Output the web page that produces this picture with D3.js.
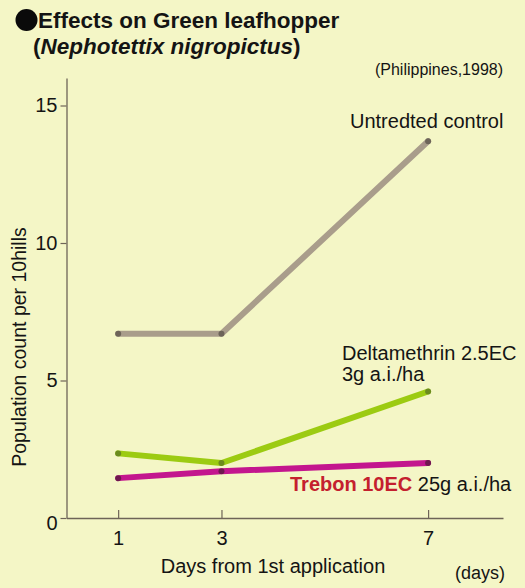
<!DOCTYPE html>
<html>
<head>
<meta charset="utf-8">
<script src="https://cdn.jsdelivr.net/npm/d3@7"></script>
<style>
  html, body { margin: 0; padding: 0; background: #f4f6c6; }
  svg text { font-family: "Liberation Sans", Arial, Helvetica, sans-serif; fill: #141414; }
</style>
</head>
<body>
<script>
'use strict';

const WIDTH  = 525;
const HEIGHT = 588;

// データ
const days        = [1, 3, 7];
const untreated   = [6.7, 6.7, 13.7];
const deltamethrin = [2.35, 2.0, 4.6];
const trebon      = [1.45, 1.7, 2.0];
const yTicks      = [0, 5, 10, 15];

const series = [
  {name: 'untreated',    values: untreated,    color: '#a99d8b', dot: '#5e564c'},
  {name: 'deltamethrin', values: deltamethrin, color: '#9ccb12', dot: '#5f7a22'},
  {name: 'trebon',       values: trebon,       color: '#c3168e', dot: '#5a1840'}
];

const svg = d3.select('body')
  .append('svg')
    .attr('width', WIDTH)
    .attr('height', HEIGHT);

svg.append('rect')
  .attr('width', WIDTH)
  .attr('height', HEIGHT)
  .attr('fill', '#f4f6c6');

const x = d3.scaleLinear().domain([0, 8.45]).range([66.5, 503]);
const y = d3.scaleLinear().domain([0, 16]).range([518, 78]);

// 軸
const yAxis = svg.append('g')
  .attr('transform', 'translate(' + x(0) + ',0)')
  .call(d3.axisLeft(y).tickValues(yTicks).tickSizeInner(6).tickSizeOuter(0).tickPadding(3));

const xAxis = svg.append('g')
  .attr('transform', 'translate(0,' + y(0) + ')')
  .call(d3.axisBottom(x).tickValues(days).tickSizeInner(-8).tickSizeOuter(0).tickPadding(13));

[xAxis, yAxis].forEach(g => {
  g.select('.domain').attr('stroke', '#6e6458').attr('stroke-width', 1.3);
  g.selectAll('.tick line').attr('stroke', '#6e6458').attr('stroke-width', 1.2);
  g.selectAll('.tick text')
    .style('font-family', '"Liberation Sans", Arial, sans-serif')
    .style('font-size', '20px')
    .attr('fill', '#141414');
});
// 0 は原点の左下
yAxis.selectAll('.tick text').filter(d => d === 0).attr('dy', '0.55em');

// 折れ線
const line = d3.line()
  .x((d, i) => x(days[i]))
  .y(d => y(d));

series.forEach(s => {
  svg.append('path')
    .datum(s.values)
    .attr('d', line)
    .attr('fill', 'none')
    .attr('stroke', s.color)
    .attr('stroke-width', 6)
    .attr('stroke-linecap', 'round')
    .attr('stroke-linejoin', 'round');
});
series.forEach(s => {
  svg.selectAll(null)
    .data(s.values)
    .enter().append('circle')
      .attr('cx', (d, i) => x(days[i]))
      .attr('cy', d => y(d))
      .attr('r', 3)
      .attr('fill', s.dot)
      .attr('opacity', 0.8);
});

// タイトル
svg.append('circle')
  .attr('cx', 26.5).attr('cy', 20).attr('r', 11)
  .attr('fill', '#0a0a0a');
svg.append('text')
  .attr('x', 38).attr('y', 28)
  .style('font-size', '22.5px').style('font-weight', 'bold')
  .text('Effects on Green leafhopper');
const t2 = svg.append('text')
  .attr('x', 33).attr('y', 54)
  .style('font-size', '22.5px').style('font-weight', 'bold');
t2.append('tspan').text('(');
t2.append('tspan').style('font-style', 'italic').text('Nephotettix nigropictus');
t2.append('tspan').text(')');

svg.append('text')
  .attr('x', 503).attr('y', 75)
  .attr('text-anchor', 'end')
  .style('font-size', '16px')
  .text('(Philippines,1998)');

// 系列ラベル
svg.append('text')
  .attr('x', 350).attr('y', 128)
  .style('font-size', '20px')
  .text('Untredted control');
svg.append('text')
  .attr('x', 342).attr('y', 360)
  .style('font-size', '20px')
  .text('Deltamethrin 2.5EC');
svg.append('text')
  .attr('x', 342).attr('y', 381)
  .style('font-size', '20px')
  .text('3g a.i./ha');
const tr = svg.append('text')
  .attr('x', 290).attr('y', 491)
  .style('font-size', '20px');
tr.append('tspan').style('font-weight', 'bold').attr('fill', '#c4202e').text('Trebon 10EC');
tr.append('tspan').text(' 25g a.i./ha');

// 軸ラベル
svg.append('text')
  .attr('transform', 'translate(26,347)rotate(-90)')
  .attr('text-anchor', 'middle')
  .style('font-size', '19.5px')
  .text('Population count per 10hills');
svg.append('text')
  .attr('x', 273).attr('y', 573)
  .attr('text-anchor', 'middle')
  .style('font-size', '20px')
  .text('Days from 1st application');
svg.append('text')
  .attr('x', 505).attr('y', 579)
  .attr('text-anchor', 'end')
  .style('font-size', '18px')
  .text('(days)');
</script>
</body>
</html>
